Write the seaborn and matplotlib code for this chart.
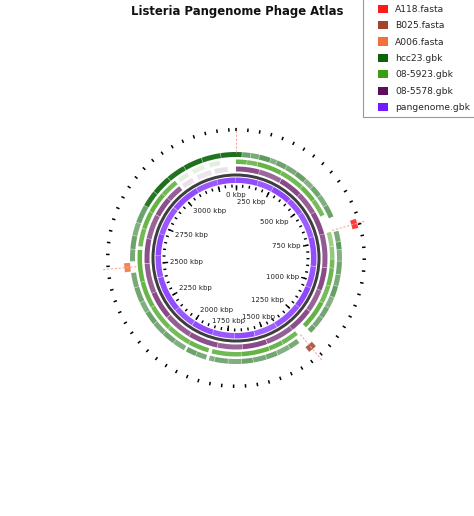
import matplotlib
matplotlib.use('Agg')
import matplotlib.pyplot as plt
import seaborn as sns
import numpy as np
from matplotlib.patches import Patch, Rectangle

# Circular BLAST atlas of Listeria phages against the pangenome (BRIG style)

genome_kbp = 3380

# phage hits (kbp)
phage_names = ['A118.fasta', 'B025.fasta', 'A006.fasta']
phage_start = [675, 1294, 2466]
phage_end = [715, 1334, 2510]
phage_colors = ['#ff1a1a', '#a0442c', '#f2703a']

# hcc23 blast blocks
hcc23_start = [0, 32, 77, 122, 182, 217, 272, 332, 392, 442, 502, 562,
               705, 762, 802, 862, 932, 992, 1052, 1112, 1172, 1232,
               1345, 1402, 1472, 1532, 1602, 1662, 1732, 1802,
               1846, 1902, 1967, 2032, 2102, 2172, 2242, 2302, 2382,
               2518, 2582, 2652, 2722, 2817, 2902, 3002, 3102, 3202, 3302]
hcc23_end = [30, 75, 120, 180, 215, 270, 330, 390, 440, 500, 560, 628,
             760, 800, 860, 930, 990, 1050, 1110, 1170, 1230, 1266,
             1400, 1470, 1530, 1600, 1660, 1730, 1800, 1830,
             1900, 1955, 2030, 2100, 2170, 2240, 2300, 2380, 2458,
             2580, 2650, 2720, 2815, 2900, 3000, 3100, 3200, 3300, 3380]
hcc23_ident = [0.90, 0.60, 0.55, 0.65, 0.50, 0.60, 0.55, 0.62, 0.50, 0.58, 0.52, 0.60,
               0.55, 0.65, 0.50, 0.58, 0.55, 0.62, 0.50, 0.58, 0.55, 0.60,
               0.55, 0.50, 0.58, 0.55, 0.60, 0.52, 0.56, 0.50,
               0.55, 0.60, 0.52, 0.58, 0.55, 0.60, 0.52, 0.58, 0.55,
               0.55, 0.60, 0.52, 0.60, 0.88, 0.92, 0.90, 0.93, 0.90, 0.92]

# 08-5923 blast blocks
s5923_start = [0, 62, 122, 262, 402, 502, 700, 782, 852, 902, 1002, 1102, 1325, 1422,
               1502, 1662, 1845, 1962, 2102, 2252, 2402, 2600, 2702, 2802, 2922,
               3040, 3130, 3230]
s5923_end = [60, 120, 260, 400, 500, 600, 780, 850, 900, 1000, 1100, 1265, 1420, 1500,
             1660, 1825, 1960, 2100, 2250, 2400, 2580, 2700, 2800, 2920, 3020,
             3100, 3200, 3290]
s5923_ident = [0.75, 0.70, 0.78, 0.72, 0.76, 0.70, 0.50, 0.55, 0.70, 0.75, 0.70, 0.78, 0.72, 0.76,
               0.78, 0.72, 0.75, 0.70, 0.72, 0.76, 0.78, 0.72, 0.76, 0.78, 0.72,
               0.15, 0.12, 0.15]

# 08-5578 blast blocks
s5578_start = [0, 142, 283, 422, 562, 702, 903, 1042, 1183, 1332, 1503, 1652, 1803, 1982,
               2153, 2322, 2503, 2652, 2803, 2922, 3040, 3140, 3250]
s5578_end = [140, 280, 420, 560, 700, 900, 1040, 1180, 1330, 1500, 1650, 1800, 1980, 2150,
             2320, 2500, 2650, 2800, 2920, 3020, 3110, 3230, 3330]
s5578_ident = [0.72, 0.62, 0.74, 0.66, 0.74, 0.68, 0.74, 0.64, 0.72, 0.66, 0.74, 0.64, 0.72, 0.66,
               0.74, 0.66, 0.72, 0.64, 0.72, 0.66, 0.12, 0.10, 0.12]

# pangenome reference blocks
pan_start = [0, 152, 262, 403, 522, 702, 903, 1052, 1202, 1403, 1563, 1702, 1852, 2003,
             2152, 2403, 2552, 2702, 2903, 3102, 3252]
pan_end = [150, 260, 400, 520, 700, 900, 1050, 1200, 1400, 1560, 1700, 1850, 2000, 2150,
           2400, 2550, 2700, 2900, 3100, 3250, 3378]
pan_ident = [0.78, 0.72, 0.80, 0.74, 0.70, 0.78, 0.74, 0.80, 0.74, 0.68, 0.78, 0.72, 0.78, 0.72,
             0.78, 0.74, 0.80, 0.72, 0.78, 0.72, 0.78]

label_kbp = [0, 250, 500, 750, 1000, 1250, 1500, 1750, 2000, 2250, 2500, 2750, 3000]

ring_names = ['hcc23.gbk', '08-5923.gbk', '08-5578.gbk', 'pangenome.gbk']
ring_colors = ['#0a640a', '#3a9e12', '#5e0c5e', '#7418ff']


def to_rad(kbp):
    return np.asarray(kbp, dtype=float) / genome_kbp * 2 * np.pi


sns.set_theme(style='white')
plt.rcParams['font.family'] = ['DejaVu Sans']

fig = plt.figure(figsize=(4.74, 5.16), dpi=100)
ax = fig.add_axes([86 / 474, 108 / 516, 300 / 474, 300 / 516], projection='polar')
ax.set_theta_zero_location('N')
ax.set_theta_direction(-1)
ax.set_ylim(0, 150)
ax.set_axis_off()


def ring(starts, ends, ident, color, r0, r1):
    th0 = to_rad(starts)
    w = to_rad(ends) - th0
    for t, ww, a in zip(th0, w, ident):
        ax.bar(t, r1 - r0, width=ww, bottom=r0, align='edge', color=color,
               alpha=a, linewidth=0)


ring(pan_start, pan_end, pan_ident, ring_colors[3], 75, 80.5)
ax.bar(0, 3, width=2 * np.pi, bottom=81.5, align='edge', color='#3e3e3e', linewidth=0)
ring(s5578_start, s5578_end, s5578_ident, ring_colors[2], 86.5, 91.5)
ring(s5923_start, s5923_end, s5923_ident, ring_colors[1], 94, 98.5)
ring(hcc23_start, hcc23_end, hcc23_ident, ring_colors[0], 101, 106)

# phage hits, one ring each, with dashed guide lines
phage_r = [(120, 126), (113, 119), (106, 112)]
for s, e, c, (r0, r1) in zip(phage_start, phage_end, phage_colors, phage_r):
    mid = to_rad((s + e) / 2)
    ax.plot([mid, mid], [100, 134], color='#f4a9a9', lw=0.8, ls=(0, (2, 1.5)))
    ax.bar(to_rad(s), r1 - r0, width=to_rad(e - s), bottom=r0, align='edge',
           color=c, alpha=0.85, linewidth=0)
ax.plot([0, 0], [106, 131], color='#f4a9a9', lw=0.8, ls=(0, (2, 1.5)))

# scale ticks
minor = to_rad(np.arange(0, genome_kbp, 50))
major = to_rad(np.arange(0, genome_kbp, 250))
ax.vlines(minor, 70.5, 73.5, color='black', lw=1.0)
ax.vlines(major, 68, 73.5, color='black', lw=1.0)
ax.vlines(minor, 126.5, 130, color='black', lw=1.1)

for k in label_kbp:
    th = to_rad(k)
    sx, cy = np.sin(th), np.cos(th)
    ha = 'center' if abs(sx) < 0.35 else ('right' if sx > 0 else 'left')
    va = 'center' if abs(cy) < 0.35 else ('top' if cy > 0 else 'bottom')
    ax.text(th, 66, f'{k} kbp', ha=ha, va=va, fontsize=5, color='#222222')

fig.text(0.5, 1 - 12 / 516, 'Listeria Pangenome Phage Atlas', ha='center', va='center',
         fontsize=8.4, fontweight='bold', color='#111111')

handles = [Patch(facecolor=c, edgecolor='none') for c in phage_colors + ring_colors]
labels = phage_names + ring_names
fig.legend(handles, labels, loc='upper left', bbox_to_anchor=(378 / 474, 1 - 4.6 / 516),
           fontsize=6.6, frameon=False, handlelength=1.05, handleheight=1.0,
           handletextpad=0.85, labelspacing=0.78, borderpad=0, borderaxespad=0)
fig.add_artist(Rectangle((362.5 / 474, 1 - 117 / 516), 0.3, 0.3, transform=fig.transFigure,
                         fill=False, edgecolor='#999999', lw=0.8))

fig.savefig('out.png', dpi=100, facecolor='white')
